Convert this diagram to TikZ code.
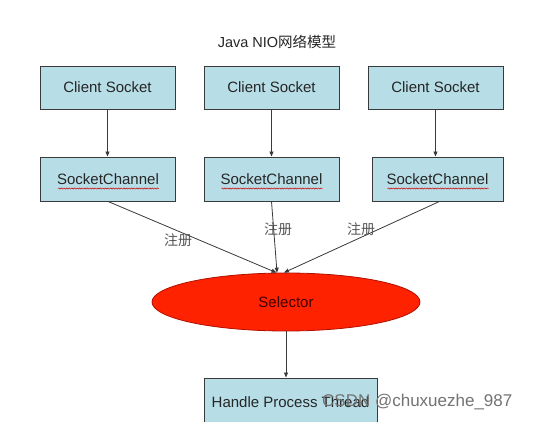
\documentclass[tikz,border=0pt]{standalone}
\usepackage{fontspec}
\setmainfont{Liberation Sans}
\newfontfamily\cjk{Noto Sans CJK SC}
\usetikzlibrary{arrows.meta,shapes.geometric,calc,decorations.pathmorphing}
\definecolor{boxfill}{HTML}{B7DDE6}
\definecolor{boxline}{HTML}{3A3A3A}
\definecolor{selfill}{HTML}{FF2200}
\definecolor{selline}{HTML}{B01000}
\definecolor{lblgray}{HTML}{555555}
\tikzset{
  boxnode/.style={draw=boxline, line width=0.9pt, fill=boxfill, rectangle,
    minimum width=135pt, minimum height=43pt, inner sep=0pt,
    font=\fontsize{15}{18}\selectfont, text=black!85},
  conn/.style={draw=boxline, line width=0.8pt},
  arr/.style={conn, -{Triangle[length=5pt,width=4pt]}},
  lbl/.style={font=\cjk\fontsize{14}{16}\selectfont, text=lblgray, inner sep=0pt},
  squiggle/.style={draw=red!80!black, line width=0.5pt, decorate,
    decoration={snake, amplitude=0.6pt, segment length=2.6pt}}
}
\begin{document}
\begin{tikzpicture}[x=1pt,y=-1pt]
\clip (0,0) rectangle (536,422);
\fill[white] (0,0) rectangle (536,422);

\node[font=\fontsize{14.5}{17}\selectfont, text=black!85] (title) at (277,42) {Java NIO{\cjk 网络模型}};

\node[boxnode] (c1) at (107.5,87.5) {Client Socket};
\node[boxnode] (c2) at (271.5,87.5) {Client Socket};
\node[boxnode] (c3) at (435.5,87.5) {Client Socket};

\node[boxnode, minimum height=44pt] (s1) at (108,179) {SocketChannel};
\node[boxnode, minimum height=44pt] (s2) at (271.5,179) {SocketChannel};
\node[boxnode, minimum height=44pt, minimum width=131pt] (s3) at (437.5,179) {SocketChannel};

\foreach \n in {s1,s2,s3}{
  \draw[squiggle] ($(\n.center)+(-50,9.5)$) -- ($(\n.center)+(51,9.5)$);
}

\node[ellipse, draw=selline, line width=0.8pt, fill=selfill,
  minimum width=268pt, minimum height=58pt, inner sep=0pt,
  font=\fontsize{15}{18}\selectfont, text=black!75!red] (sel) at (286,302) {Selector};

\node[boxnode, minimum width=173pt, minimum height=48pt] (h) at (290.5,402) {Handle Process Thread};

\draw[arr] (c1.south) -- (c1.south |- s1.north);
\draw[arr] (c2.south) -- (c2.south |- s2.north);
\draw[arr] (c3.south) -- (c3.south |- s3.north);

\draw[arr] (s1.south) -- (sel.108);
\draw[arr] (s2.south) -- (sel.107);
\draw[arr] ($(s3.south)+(2,0)$) -- (sel.94);

\draw[arr] (sel.south) -- (sel.south |- h.north);

\node[lbl] (l1) at (178,240) {注册};
\node[lbl] (l2) at (278,229) {注册};
\node[lbl] (l3) at (361,229) {注册};

\node[font=\fontsize{17}{20}\selectfont, text=black!55, anchor=west, inner sep=0pt] (wm) at (322,402) {CSDN @chuxuezhe\_987};
\end{tikzpicture}
\end{document}
